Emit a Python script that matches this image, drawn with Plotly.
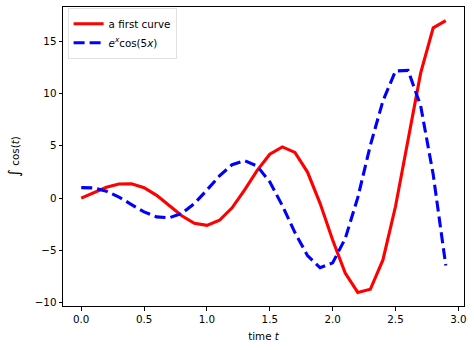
import plotly.graph_objects as go

t = [round(0.1 * i, 1) for i in range(30)]
first_curve = [0.0, 0.53, 1.03, 1.35, 1.36, 0.99, 0.26, -0.71, -1.69, -2.41,
               -2.61, -2.12, -0.93, 0.79, 2.66, 4.20, 4.90, 4.37, 2.49, -0.50,
               -4.02, -7.18, -9.03, -8.73, -5.92, -0.81, 5.66, 11.96, 16.29, 16.99]
exp_cos = [1.00, 0.97, 0.66, 0.10, -0.62, -1.32, -1.80, -1.89, -1.46, -0.52,
           0.77, 2.13, 3.19, 3.58, 3.06, 1.55, -0.72, -3.30, -5.51, -6.67,
           -6.20, -3.88, 0.04, 5.05, 9.30, 12.16, 12.22, 8.85, 2.25, -6.45]
x_ticks = [0.0, 0.5, 1.0, 1.5, 2.0, 2.5, 3.0]
y_ticks = [-10, -5, 0, 5, 10, 15]

font = dict(family="DejaVu Sans", size=10.3, color="black")

fig = go.Figure()
fig.add_trace(go.Scatter(x=t, y=first_curve, mode="lines", name="a first curve",
                         line=dict(color="#ff0000", width=3.1)))
fig.add_trace(go.Scatter(x=t, y=exp_cos, mode="lines",
                         name="<i>e</i><sup><i>x</i></sup>cos(5<i>x</i>)",
                         line=dict(color="#0000ff", width=3.1, dash="11px,5px")))

axis_common = dict(showgrid=False, zeroline=False, showline=True, linecolor="black",
                   linewidth=0.8, mirror=True, ticks="outside", ticklen=3.6,
                   tickwidth=0.8, tickcolor="black", tickfont=font)
fig.update_xaxes(range=[-0.145, 3.045], tickvals=x_ticks,
                 ticktext=[f"{v:.1f}" for v in x_ticks],
                 title=dict(text="time <i>t</i>", font=font, standoff=8), **axis_common)
fig.update_yaxes(range=[-10.33, 18.29], tickvals=y_ticks,
                 ticktext=[str(v).replace("-", "\u2212") for v in y_ticks],
                 title=dict(text="<span style='font-size:15px'>\u222b</span> cos(<i>t</i>)",
                            font=font, standoff=13), **axis_common)

fig.update_layout(width=474, height=350, margin=dict(l=63, r=10, t=7, b=44),
                  paper_bgcolor="white", plot_bgcolor="white", font=font,
                  legend=dict(x=0.012, y=0.995, xanchor="left", yanchor="top",
                              bgcolor="rgba(255,255,255,0.8)", bordercolor="#d9d9d9",
                              borderwidth=0.8, font=font, itemwidth=30,
                              tracegroupgap=0))
fig.write_html("out.html")
